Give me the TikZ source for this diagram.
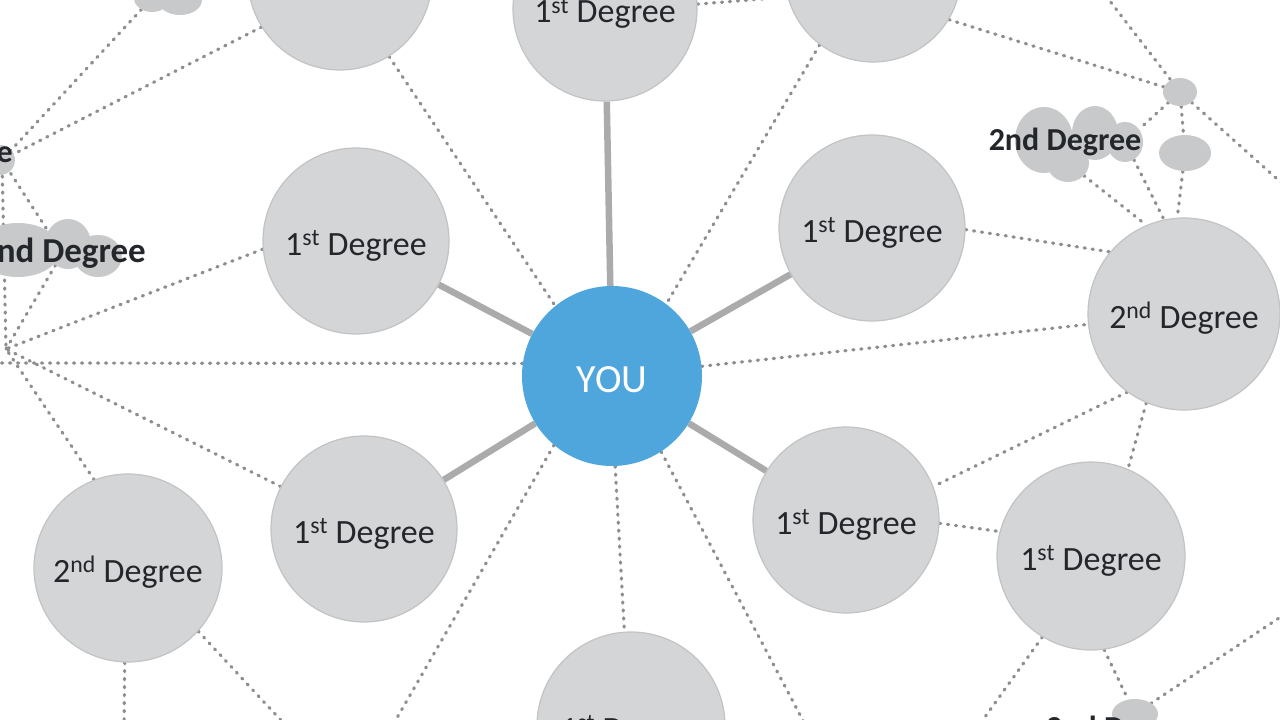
\documentclass[tikz,border=0pt]{standalone}
\usepackage{fontspec}
\setmainfont{Carlito}
\usetikzlibrary{shapes.geometric,backgrounds}
\pgfdeclarelayer{bottom}
\pgfsetlayers{bottom,background,main}
\definecolor{cfill}{HTML}{D4D5D6}
\definecolor{cline}{HTML}{C2C3C4}
\definecolor{youblue}{HTML}{4EA6DD}
\definecolor{txt}{HTML}{23262A}
\definecolor{dotc}{HTML}{8E8E8E}
\definecolor{solidc}{HTML}{ABABAB}
\definecolor{cloudc}{HTML}{C8C9CA}
\tikzset{
  deg/.style={circle, fill=cfill, draw=cline, line width=1.2pt, inner sep=0pt,
    minimum size=#1, text=txt, font=\fontsize{34}{40}\selectfont,
    text height=28pt, text depth=0pt},
  deg/.default=186pt,
  younode/.style={circle, fill=youblue, draw=none, inner sep=0pt, minimum size=180pt,
    text=white, font=\fontsize{40}{46}\selectfont, text height=32pt, text depth=0pt},
  blob/.style={ellipse, fill=cloudc, draw=none, inner sep=0pt},
  cloudtext/.style={text=txt, font=\bfseries\fontsize{32}{38}\selectfont, inner sep=0pt},
  dotline/.style={draw=dotc, line width=3.2pt, line cap=round, dash pattern=on 1.2pt off 6.8pt},
  solidline/.style={draw=solidc, line width=6.5pt},
}
\begin{document}
\begin{tikzpicture}[x=1pt,y=-1pt]
\useasboundingbox (0,0) rectangle (1280,720);
\begin{pgfonlayer}{bottom}
\fill[white] (0,0) rectangle (1280,720);
\end{pgfonlayer}

% clouds and small blobs
\node[blob, minimum width=84pt, minimum height=54pt] (lA) at (18,250) {};
\node[blob, minimum width=46pt, minimum height=50pt] (lB) at (68,244) {};
\node[blob, minimum width=48pt, minimum height=42pt] (lC) at (98,256) {};
\node[cloudtext, anchor=base east, font=\bfseries\fontsize{35}{40}\selectfont] (lt) at (146,262) {2nd Degree};

\node[blob, minimum width=30pt, minimum height=30pt] (eb) at (0,160) {};
\node[cloudtext, anchor=base east] (et) at (13,162) {2nd Degree};

\node[blob, minimum width=36pt, minimum height=28pt] (tbA) at (152,-2) {};
\node[blob, minimum width=44pt, minimum height=30pt] (tbB) at (180,0) {};

\node[blob, minimum width=58pt, minimum height=66pt] (cA) at (1044,140) {};
\node[blob, minimum width=46pt, minimum height=54pt] (cB) at (1095,133) {};
\node[blob, minimum width=36pt, minimum height=40pt] (cC) at (1125,142) {};
\node[blob, minimum width=42pt, minimum height=38pt] (cD) at (1068,163) {};
\node[cloudtext, anchor=base] (ct) at (1065,150) {2nd Degree};

\node[blob, minimum width=34pt, minimum height=28pt] (e1) at (1180,92) {};
\node[blob, minimum width=52pt, minimum height=36pt] (e2) at (1185,153) {};

\node[blob, minimum width=46pt, minimum height=30pt] (bb) at (1135,714) {};
\node[cloudtext, anchor=base west] (bt) at (1046,738) {2nd Degree};

% circles
\node[deg=184pt] (t1) at (605,9) {1\textsuperscript{st}\ Degree};
\node[deg=184pt] (tl) at (340,-22) {};
\node[deg=176pt] (tr) at (873,-26) {};
\node[deg] (ul) at (356,241) {1\textsuperscript{st}\ Degree};
\node[deg] (ur) at (872,228) {1\textsuperscript{st}\ Degree};
\node[deg=192pt] (r2) at (1184,314) {2\textsuperscript{nd}\ Degree};
\node[deg] (ll) at (364,529) {1\textsuperscript{st}\ Degree};
\node[deg] (lr) at (846,520) {1\textsuperscript{st}\ Degree};
\node[deg=188pt] (fr) at (1091,556) {1\textsuperscript{st}\ Degree};
\node[deg=188pt] (l2) at (128,568) {2\textsuperscript{nd}\ Degree};
\node[deg=188pt] (b1) at (631,726) {1\textsuperscript{st}\ Degree};
\node[younode] (you) at (612,376) {YOU};

% free ends
\coordinate (hub) at (6,349);
\coordinate (hw) at (-6,363);
\coordinate (ecl) at (2,160);
\coordinate (tE) at (1106,-4);
\coordinate (rE1) at (1285,186);
\coordinate (rE2) at (1285,614);
\coordinate (bE1) at (972,735);
\coordinate (bE2) at (390,730);
\coordinate (bE3) at (808,730);
\coordinate (bE4) at (124,730);
\coordinate (bE5) at (290,730);

\begin{scope}[on background layer]
  % solid links to first degree
  \draw[solidline] (you) -- (t1);
  \draw[solidline] (you) -- (ul);
  \draw[solidline] (you) -- (ur);
  \draw[solidline] (you) -- (ll);
  \draw[solidline] (you) -- (lr);
  % dotted links
  \draw[dotline] (ul.185) -- (hub);
  \draw[dotline] (you.172) -- (hw);
  \draw[dotline] (ll.153) -- (hub);
  \draw[dotline] (l2.111) -- (hub);
  \draw[dotline] (lB) -- (hub);
  \draw[dotline] (ecl) -- (hub);
  \draw[dotline] (ecl) -- (lA.north east);
  \draw[dotline] (tl.212) -- (ecl);
  \draw[dotline] (tbA) -- (ecl);
  \draw[dotline] (tl.302) -- (you.129);
  \draw[dotline] (tr.233) -- (you.53);
  \draw[dotline] (t1.3) -- (tr.195);
  \draw[dotline] (tr.-31) -- (e1);
  \draw[dotline] (tE) -- (e1);
  \draw[dotline] (e1) -- (rE1);
  \draw[dotline] (e1) -- (cC);
  \draw[dotline] (e1) -- (e2);
  \draw[dotline] (e2) -- (r2.94);
  \draw[dotline] (cD) -- (r2.113);
  \draw[dotline] (cC) -- (r2.102);
  \draw[dotline] (ur.-1) -- (r2.140);
  \draw[dotline] (you) -- (r2);
  \draw[dotline] (r2.234) -- (lr.21);
  \draw[dotline] (r2.247) -- (fr.67);
  \draw[dotline] (lr.-2) -- (fr.165);
  \draw[dotline] (fr.239) -- (bE1);
  \draw[dotline] (fr.278) -- (bb);
  \draw[dotline] (rE2) -- (bb);
  \draw[dotline] (you.230) -- (bE2);
  \draw[dotline] (you.272) -- (b1.94);
  \draw[dotline] (you.303) -- (bE3);
  \draw[dotline] (l2.268) -- (bE4);
  \draw[dotline] (l2.318) -- (bE5);
\end{scope}
\end{tikzpicture}
\end{document}
